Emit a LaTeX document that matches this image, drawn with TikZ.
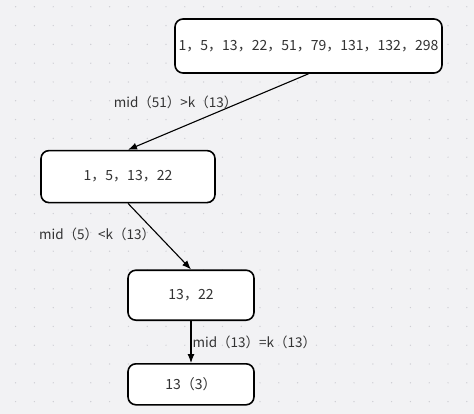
\documentclass[tikz,border=0pt]{standalone}
\usepackage{fontspec}
\setmainfont{Noto Sans CJK SC}
\usepackage{xcolor}
\usetikzlibrary{arrows.meta, positioning}
\definecolor{bggray}{HTML}{F2F2F4}
\definecolor{dotgray}{HTML}{CDCDD2}
\definecolor{txtgray}{HTML}{333333}

\begin{document}
\begin{tikzpicture}[
    x=1pt, y=-1pt,
    box/.style={draw, fill=white, rectangle, rounded corners=8pt, line width=1.6pt, align=center, font=\fontsize{14}{17}\selectfont, text=txtgray},
    line/.style={draw, -{Latex[length=9pt, width=7pt]}, line width=1.1pt},
    cond/.style={font=\fontsize{13.5}{16}\selectfont, text=txtgray, inner sep=2pt}
]
    % background with dot grid
    \fill[bggray] (0,0) rectangle (474,414);
    \useasboundingbox (0,0) rectangle (474,414);
    \foreach \i in {0,...,24} {
        \foreach \j in {0,...,21} {
            \fill[dotgray] (15.6+18.8*\i, 6.8+18.8*\j) circle (0.7pt);
        }
    }

    \node[box, minimum width=267pt, minimum height=54pt] (arr) at (308.5,46) {1，5，13，22，51，79，131，132，298};
    \node[box, minimum width=174pt, minimum height=52pt, below=76pt of arr, xshift=-180.5pt] (half) {1，5，13，22};
    \node[box, minimum width=126pt, minimum height=50pt, below=66pt of half, xshift=63pt] (quart) {13，22};
    \node[box, minimum width=126pt, minimum height=41pt, below=42pt of quart] (found) {13（3）};

    \draw[line] (arr.south) -- (half.north) node[cond, pos=0.38, anchor=east] {mid（51）>k（13）};
    \draw[line] (half.south) -- (quart.north) node[cond, pos=0.47, anchor=east] {mid（5）<k（13）};
    \draw[line] (quart.south) -- (found.north) node[cond, pos=0.52, anchor=west, inner sep=1pt] {mid（13）=k（13）};
\end{tikzpicture}
\end{document}
